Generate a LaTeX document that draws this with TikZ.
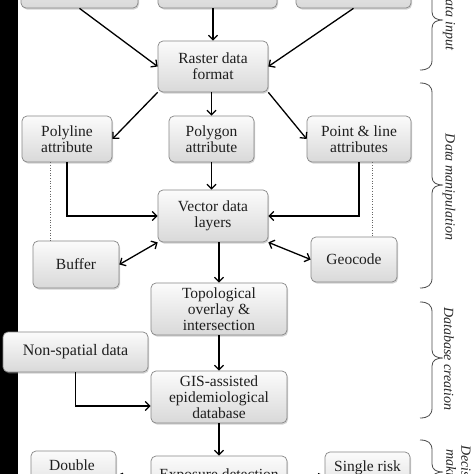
\documentclass[tikz,border=0pt]{standalone}
\usepackage{fontspec}
\setmainfont{Liberation Serif}
\usetikzlibrary{arrows.meta,shadows,calc}
\tikzset{
  box/.style={draw={rgb,255:red,135;green,135;blue,135}, line width=0.7pt, rounded corners=5pt,
    top color=gray!3, bottom color=gray!30, drop shadow={opacity=0.35, shadow xshift=1pt, shadow yshift=-1.5pt},
    align=center, inner sep=0pt, text=black!88, font=\fontsize{15.5}{16}\selectfont},
  arr/.style={line width=1.3pt, -{Straight Barb[length=4.5pt,width=9pt]}},
  darr/.style={line width=1.3pt, {Straight Barb[length=4.5pt,width=9pt]}-{Straight Barb[length=4.5pt,width=9pt]}},
  dotline/.style={gray!80!black, line width=0.6pt, dotted},
  bracestyle/.style={gray!60!black, line width=0.8pt},
  bracelabel/.style={rotate=-90, align=center, text=black!85, font=\fontsize{14}{15}\selectfont\itshape},
  cuttext/.style={anchor=base, text=black!88, font=\fontsize{15.5}{16}\selectfont, inner sep=0pt}
}
\newcommand\mybrace[3]{%
  \draw[bracestyle] (420,#1) .. controls (428,#1) and (432,#1+3) .. (432,#1+10) -- (432,#2-8)
    .. controls (432,#2-2) and (437,#2) .. (443,#2) .. controls (437,#2) and (432,#2+2) .. (432,#2+8)
    -- (432,#3-10) .. controls (432,#3-3) and (428,#3) .. (420,#3);}
\begin{document}
\begin{tikzpicture}[x=1pt,y=-1pt]
\useasboundingbox (0,0) rectangle (474,474);
\clip (0,0) rectangle (474,474);
\fill[white] (0,0) rectangle (474,474);
\fill[black] (0,0) rectangle (18,474);

% top row (cut)
\node[box, minimum width=117pt, minimum height=48pt] (tl) at (79.5,-16) {};
\node[box, minimum width=119pt, minimum height=48pt] (tm) at (217.5,-16) {};
\node[box, minimum width=115pt, minimum height=48pt] (tr) at (353.5,-16) {};

\node[box, minimum width=110pt, minimum height=51pt] (raster) at (213,66.5) {Raster data\\format};
\node[box, minimum width=90pt, minimum height=46pt] (polyline) at (67,139) {Polyline\\attribute};
\node[box, minimum width=85pt, minimum height=46pt] (polygon) at (211.5,139) {Polygon\\attribute};
\node[box, minimum width=104pt, minimum height=46pt] (pointline) at (359,139) {Point \& line\\attributes};
\node[box, minimum width=110pt, minimum height=52pt] (vector) at (213,216) {Vector data\\layers};
\node[box, minimum width=86pt, minimum height=47pt] (buffer) at (76,264.5) {Buffer};
\node[box, minimum width=86pt, minimum height=45pt] (geocode) at (354,259.5) {Geocode};
\node[box, minimum width=136pt, minimum height=52pt] (topo) at (219,309) {Topological\\overlay \&\\intersection};
\node[box, minimum width=145pt, minimum height=40pt, font=\fontsize{16}{17}\selectfont] (nonspatial) at (75.5,352) {Non-spatial data};
\node[box, minimum width=136pt, minimum height=52pt] (gis) at (219,397) {GIS-assisted\\epidemiological\\database};

% bottom row (cut)
\node[box, minimum width=85pt, minimum height=49pt] (double) at (73.5,475.5) {};
\node[box, minimum width=136pt, minimum height=54pt] (exposure) at (219,483) {};
\node[box, minimum width=85pt, minimum height=48pt] (single) at (367.5,476) {};
\node[cuttext] (doubletext) at (72,470) {Double};
\node[cuttext] (singletext) at (367.5,471) {Single risk};
\node[cuttext] (exposuretext) at (219,479) {Exposure detection};

% connectors
\draw[arr] (tl.south) -- (raster.west);
\draw[arr] (raster.north |- tm.south) -- (raster.north);
\draw[arr] (tr.south) -- (raster.east);
\draw[arr] (raster.south west) -- (polyline.east);
\draw[arr] (polygon.north |- raster.south) -- (polygon.north);
\draw[arr] (raster.south east) -- (pointline.west);
\draw[arr] (polyline.south) |- (vector.west);
\draw[arr] (polygon.south) -- (polygon.south |- vector.north);
\draw[arr] (pointline.south) |- (vector.east);
\draw[dotline] ([xshift=-17pt]polyline.south) -- ([xshift=-17pt]polyline.south |- buffer.north);
\draw[dotline] ([xshift=13pt]pointline.south) -- ([xshift=13pt]pointline.south |- geocode.north);
\draw[darr] (buffer.east) -- (vector.south west);
\draw[darr] (geocode.west) -- (vector.south east);
\draw[arr] (topo.north |- vector.south) -- (topo.north);
\draw[arr] (topo.south) -- (gis.north);
\draw[arr] (nonspatial.south) |- ([yshift=-9pt]gis.west);
\draw[arr] (gis.south) -- (exposure.north);
\draw[arr] ([yshift=-6pt]exposure.west) -- (double.east);
\draw[arr] ([yshift=-6pt]exposure.east) -- (single.west);

% braces
\mybrace{-60}{20}{70}
\mybrace{83}{185}{288}
\mybrace{302}{358}{418}
\mybrace{440}{472}{504}
\node[bracelabel] (lab1) at (449,20) {Data input};
\node[bracelabel] (lab2) at (449,187) {Data manipulation};
\node[bracelabel] (lab3) at (449,359) {Database creation};
\node[bracelabel] (lab4) at (457,470) {Decision\\making};
\end{tikzpicture}
\end{document}
